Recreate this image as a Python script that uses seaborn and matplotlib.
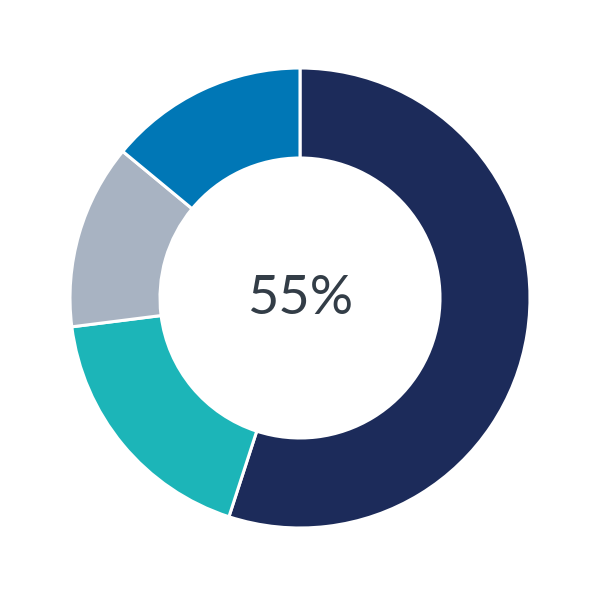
import matplotlib
matplotlib.use("Agg")
import matplotlib.pyplot as plt
import seaborn as sns

labels = ["Navy", "Teal", "Gray", "Blue"]
values = [55, 18, 13, 14]
colors = ["#1c2b5a", "#1cb5b8", "#a8b3c2", "#0077b6"]
center_label = "55%"

sns.set_theme(style="white")
plt.rcParams['font.family'] = ['Lato', 'DejaVu Sans']

fig = plt.figure(figsize=(6.0, 5.99), dpi=100)
ax = fig.add_axes([0, 0, 1, 1])
R = 230.0
ax.pie(values, colors=colors, startangle=90, counterclock=False,
       radius=1.0, wedgeprops=dict(width=(230 - 140) / 230, edgecolor="white", linewidth=2.2))
ax.set_xlim(-300 / R, 300 / R)
ax.set_ylim(-301 / R, 298 / R)
ax.set_aspect("equal")
ax.axis("off")
ax.text(0, 0, center_label, ha="center", va="center", fontsize=39,
        color="#333d47", fontweight="normal")
fig.savefig("out.png", dpi=100)
